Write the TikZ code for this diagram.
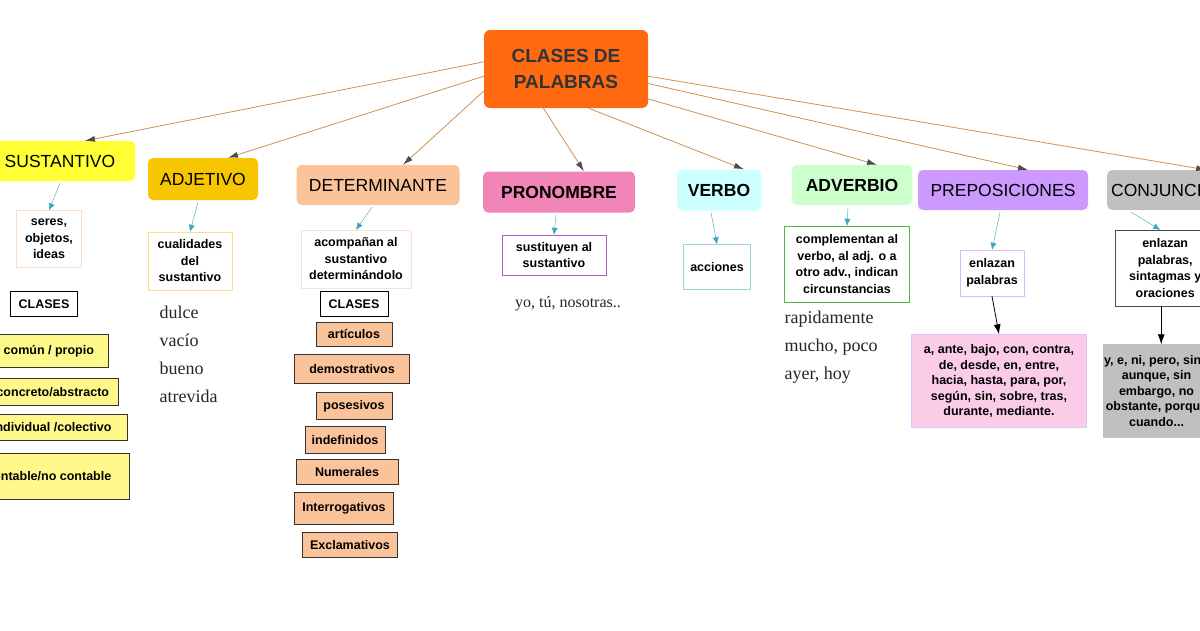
\documentclass[tikz,border=0pt]{standalone}
\usepackage{fontspec}
\setmainfont{Liberation Sans}
\newfontfamily\hand{Liberation Serif}
\usetikzlibrary{arrows.meta}
\definecolor{tit}{HTML}{FF6A10}
\definecolor{sus}{HTML}{FFFF33}
\definecolor{adj}{HTML}{F7C600}
\definecolor{det}{HTML}{FAC39A}
\definecolor{pro}{HTML}{F285B8}
\definecolor{ver}{HTML}{CCFFFF}
\definecolor{adv}{HTML}{CCFFCC}
\definecolor{pre}{HTML}{CC99FF}
\definecolor{con}{HTML}{C0C0C0}
\definecolor{lnk}{HTML}{D09050}
\definecolor{teal}{HTML}{3AA8B8}
\tikzset{
 cat/.style={rounded corners=5pt,minimum height=40pt,inner sep=4pt,font=\fontsize{17.5}{20}\selectfont,text=black},
 sub/.style={draw,fill=white,align=center,font=\bfseries\fontsize{12.5}{16.5}\selectfont,inner sep=2pt},
 item/.style={draw=black!80,align=center,font=\bfseries\fontsize{12.5}{15.5}\selectfont,inner sep=2pt},
 ex/.style={font=\hand\fontsize{18}{28}\selectfont,align=left,anchor=north west,text=black!85},
 top/.style={draw=lnk,thick,-{Latex[length=10pt,width=6pt,color=black!70]}},
 dn/.style={draw=teal,-{Latex[length=7pt,width=6pt]}},
 bk/.style={draw=black,thick,-{Latex[length=10pt,width=7pt]}}
}
\begin{document}
\begin{tikzpicture}[x=1pt,y=-1pt]
\useasboundingbox (0,0) rectangle (1200,630);
\clip (0,0) rectangle (1200,630);
\fill[white] (0,0) rectangle (1200,630);
\node[fill=tit,rounded corners=6pt,minimum width=164pt,minimum height=78pt,align=center,font=\bfseries\fontsize{19}{26}\selectfont,text=black!80] (t) at (566,69) {CLASES DE\\PALABRAS};
\node[cat,fill=sus,minimum width=150pt] (s) at (60,161) {SUSTANTIVO};
\node[cat,fill=adj,minimum width=110pt,minimum height=42pt] (a) at (203,179) {ADJETIVO};
\node[cat,fill=det,minimum width=163pt] (d) at (378,185) {DETERMINANTE};
\node[cat,fill=pro,minimum width=152pt,minimum height=41pt,font=\bfseries\fontsize{17.5}{20}\selectfont] (p) at (559,192) {PRONOMBRE};
\node[cat,fill=ver,minimum width=84pt,minimum height=41pt,font=\bfseries\fontsize{17.5}{20}\selectfont] (v) at (719,190) {VERBO};
\node[cat,fill=adv,minimum width=120pt,font=\bfseries\fontsize{17.5}{20}\selectfont] (av) at (852,185) {ADVERBIO};
\node[cat,fill=pre,minimum width=170pt] (pr) at (1003,190) {PREPOSICIONES};
\node[cat,fill=con,minimum width=120pt,anchor=west] (c) at (1107,190) {CONJUNCIONES};
\foreach \n/\a in {s/175,a/185,d/195,p/240,v/300,av/340,pr/350,c/355}{
 \draw[top] (t.\a) -- ([xshift=25pt]\n.north);}
% sustantivo
\node[sub,draw=det!60,minimum width=65pt,minimum height=57pt] (s1) at (49,239) {seres,\\objetos,\\ideas};
\draw[dn] (s.south) ++(0,2) -- (s1.north);
\node[sub,draw=black,minimum width=67pt,minimum height=25pt] (s2) at (44,304) {CLASES};
\begin{scope}[every node/.style={item,fill=yellow!45,anchor=east}]
\node[minimum width=130pt,minimum height=33pt] (s3) at (108,351) {\hspace*{12pt}común / propio};
\node[minimum width=130pt,minimum height=27pt] (s4) at (118,392) {concreto/abstracto};
\node[minimum width=150pt,minimum height=26pt] (s5) at (127,427) {individual /colectivo};
\node[minimum width=160pt,minimum height=46pt] (s6) at (129,476) {contable/no contable};
\end{scope}
% adjetivo
\node[sub,draw=adj!50,minimum width=84pt,minimum height=58pt] (a1) at (190,261) {cualidades\\del\\sustantivo};
\draw[dn] (a.south) ++(-5,2) -- (a1.north);
\node[ex] (a2) at (156,302) {dulce\\vacío\\bueno\\atrevida};
% determinante
\node[sub,draw=det!50,minimum width=110pt,minimum height=58pt] (d1) at (356,259) {acompañan al\\sustantivo\\determinándolo};
\draw[dn] (d.south) ++(-6,2) -- (d1.north);
\node[sub,draw=black,minimum width=68pt,minimum height=25pt] (d2) at (354,304) {CLASES};
\begin{scope}[every node/.style={item,fill=det}]
\node[minimum width=76pt,minimum height=24pt] (d3) at (354,334) {artículos};
\node[minimum width=115pt,minimum height=29pt] (d4) at (352,369) {demostrativos};
\node[minimum width=76pt,minimum height=27pt] (d5) at (354,406) {posesivos};
\node[minimum width=80pt,minimum height=27pt] (d6) at (345,440) {indefinidos};
\node[minimum width=102pt,minimum height=25pt] (d7) at (347,472) {Numerales};
\node[minimum width=99pt,minimum height=32pt] (d8) at (344,508) {Interrogativos};
\node[minimum width=95pt,minimum height=25pt] (d9) at (350,545) {Exclamativos};
\end{scope}
% pronombre
\node[sub,draw=pro!70!blue,minimum width=104pt,minimum height=40pt] (p1) at (554,255) {sustituyen al\\sustantivo};
\draw[dn] (p.south) ++(-3,2) -- (p1.north);
\node[font=\hand\fontsize{16}{18}\selectfont,text=black!85] (p2) at (568,304) {yo, tú, nosotras..};
% verbo
\node[sub,draw=teal!50,minimum width=67pt,minimum height=45pt] (v1) at (717,267) {acciones};
\draw[dn] (v.south) ++(-8,2) -- (v1.north);
% adverbio
\node[sub,draw=green!60!black!70,minimum width=125pt,minimum height=76pt] (av1) at (847,264) {complementan al\\verbo, al adj. o a\\otro adv., indican\\circunstancias};
\draw[dn] (av.south) ++(-4,2) -- (av1.north);
\node[ex] (av2) at (781,307) {rapidamente\\mucho, poco\\ayer, hoy};
% preposiciones
\node[sub,draw=pre!70,minimum width=64pt,minimum height=46pt] (pr1) at (992,273) {enlazan\\palabras};
\draw[dn] (pr.south) ++(-3,2) -- (pr1.north);
\node[item,draw=pre!60,fill=magenta!20,minimum width=175pt,minimum height=93pt] (pr2) at (999,381) {a, ante, bajo, con, contra,\\de, desde, en, entre,\\hacia, hasta, para, por,\\según, sin, sobre, tras,\\durante, mediante.};
\draw[bk] (pr1.south) -- (pr2.north);
% conjunciones
\node[sub,draw=black!70,minimum width=100pt,minimum height=76pt,anchor=west] (c1) at (1115,268) {enlazan\\palabras,\\sintagmas y\\oraciones};
\draw[dn] (c.south) ++(-50,2) -- ([xshift=-5pt]c1.north);
\node[item,draw=con,fill=con,minimum height=93pt,anchor=west,inner sep=1pt] (c2) at (1103,391) {y, e, ni, pero, sino\\aunque, sin\\embargo, no\\obstante, porque\\cuando...};
\draw[bk] ([xshift=-4pt]c1.south) -- ([xshift=-4pt]c1.south |- c2.north);
\end{tikzpicture}
\end{document}
